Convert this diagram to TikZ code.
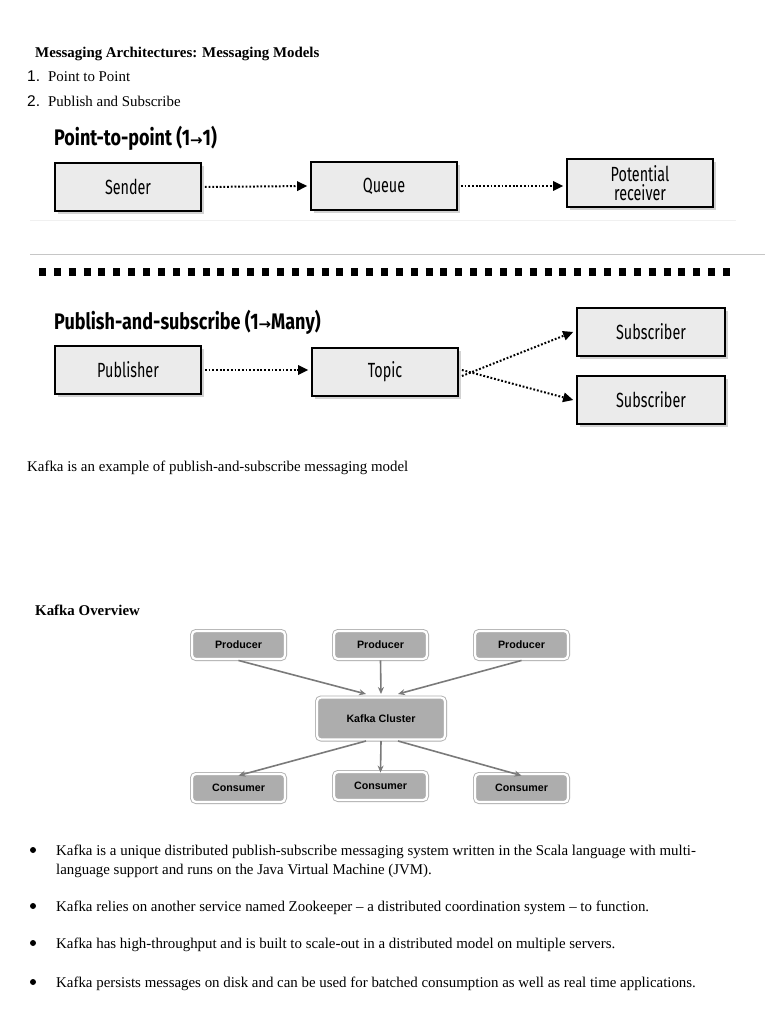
\documentclass[tikz,border=0pt]{standalone}
\usepackage{fontspec}
\setmainfont{Liberation Serif}
\newfontfamily\numfont{Liberation Sans}
\newfontfamily\cond[FakeStretch=0.8]{Fira Sans}
\newfontfamily\condlab[FakeStretch=0.7]{Fira Sans}
\newfontfamily\arrfont{DejaVu Sans}
\newfontfamily\kfont{Liberation Sans}
\usetikzlibrary{arrows.meta,shadows}
\definecolor{boxgray}{HTML}{EBEBEB}
\definecolor{kgray}{HTML}{ADADAD}
\definecolor{kline}{HTML}{7A7A7A}
\tikzset{
  body/.style={anchor=base west, inner sep=0pt, font=\fontsize{14.9}{17}\selectfont},
  obox/.style={draw=black, line width=1.8pt, fill=boxgray, minimum width=146pt, minimum height=48pt,
    inner sep=0pt, align=center, font=\condlab\fontsize{20.5}{18.5}\selectfont,
    drop shadow={shadow xshift=2.5pt, shadow yshift=-3pt, opacity=0.35, fill=gray}},
  otitle/.style={anchor=base west, inner sep=0pt, font=\cond\bfseries\fontsize{22.5}{22}\selectfont},
  dotarrow/.style={line width=2pt, dash pattern=on 1.8pt off 1.9pt, -{Triangle[length=10pt,width=10pt,line width=0pt]}},
  kbox/.style={draw=kline!60, double=white, double distance=2.2pt, line width=0.9pt, fill=kgray,
    rounded corners=4pt, minimum width=93pt, minimum height=28pt, inner sep=0pt,
    font=\kfont\bfseries\fontsize{10.7}{11}\selectfont},
  karrow/.style={draw=kline, line width=1.6pt, -{Stealth[length=7pt,width=6pt]}},
  bul/.style={circle, fill=black, inner sep=0pt, minimum size=6pt}
}
\begin{document}
\begin{tikzpicture}[x=1pt,y=-1pt]
\useasboundingbox (0,0) rectangle (768,1024);
\fill[white] (0,0) rectangle (768,1024);

% header text
\node[body, font=\bfseries\fontsize{14.9}{17}\selectfont] (title) at (35,58) {Messaging Architectures: Messaging Models};
\node[body, font=\numfont\fontsize{15.5}{17}\selectfont] (n1) at (27,82) {1.};
\node[body] (t1) at (48,82) {Point to Point};
\node[body, font=\numfont\fontsize{15.5}{17}\selectfont] (n2) at (27,107) {2.};
\node[body] (t2) at (48,107) {Publish and Subscribe};

% point-to-point
\node[otitle] (pttitle) at (54,146) {Point-to-point (1{\arrfont\fontsize{15}{15}\selectfont →}1)};
\node[obox] (sender) at (128,187) {Sender};
\node[obox] (queue) at (384,186) {Queue};
\node[obox] (recv) at (640,183) {Potential\\receiver};
\draw[dotarrow] ([xshift=3pt]sender.east) -- ([xshift=-3pt]queue.west);
\draw[dotarrow] ([xshift=3pt]queue.east) -- ([xshift=-3pt]recv.west |- queue.east);

% separators
\draw[gray!12, line width=0.8pt] (30,220) -- (736,220);
\draw[gray!45, line width=0.9pt] (30,254) -- (765,254);
\draw[black, line width=7.5pt, dash pattern=on 7pt off 7.87pt] (39,272) -- (730,272);

% publish-subscribe
\node[otitle] (pstitle) at (54,329) {Publish-and-subscribe (1{\arrfont\fontsize{15}{15}\selectfont →}Many)};
\node[obox] (pub) at (128,370) {Publisher};
\node[obox] (topic) at (385,372) {Topic};
\node[obox, minimum width=148pt] (sub1) at (651,332) {Subscriber};
\node[obox, minimum width=148pt] (sub2) at (651,400) {Subscriber};
\draw[dotarrow] ([xshift=3pt]pub.east) -- ([xshift=-3pt]topic.west |- pub.east);
\draw[dotarrow] ([xshift=3pt,yshift=-4pt]topic.east) -- ([xshift=-3pt]sub1.west);
\draw[dotarrow] ([xshift=3pt,yshift=2pt]topic.east) -- ([xshift=-3pt]sub2.west);

\node[body] (kex) at (27,471) {Kafka is an example of publish-and-subscribe messaging model};

% Kafka overview
\node[body, font=\bfseries\fontsize{14.9}{17}\selectfont] (kov) at (35,615) {Kafka Overview};
\node[kbox] (p1) at (238.5,645) {Producer};
\node[kbox] (p2) at (380.5,645) {Producer};
\node[kbox] (p3) at (521.5,645) {Producer};
\node[kbox, minimum width=128pt, minimum height=42pt] (kc) at (381,718.5) {Kafka Cluster};
\node[kbox] (c1) at (238.5,788) {Consumer};
\node[kbox] (c2) at (380.5,786) {Consumer};
\node[kbox] (c3) at (521.5,788) {Consumer};
\draw[karrow] ([yshift=-1pt]p1.south) -- (366,694);
\draw[karrow] ([yshift=-1pt]p2.south) -- (381,694);
\draw[karrow] ([yshift=-1pt]p3.south) -- (398,694);
\draw[karrow] (366,741) -- ([yshift=-2pt]c1.north);
\draw[karrow] (381,741) -- ([yshift=-1pt]c2.north);
\draw[karrow] (398,741) -- ([yshift=-2pt]c3.north);

% bullets
\node[bul] (b1) at (33,850) {};
\node[body] (l1a) at (56,855) {Kafka is a unique distributed publish-subscribe messaging system written in the Scala language with multi-};
\node[body] (l1b) at (56,874) {language support and runs on the Java Virtual Machine (JVM).};
\node[bul] (b2) at (33,906) {};
\node[body] (l2) at (56,911) {Kafka relies on another service named Zookeeper – a distributed coordination system – to function.};
\node[bul] (b3) at (33,943) {};
\node[body] (l3) at (56,948) {Kafka has high-throughput and is built to scale-out in a distributed model on multiple servers.};
\node[bul] (b4) at (33,982) {};
\node[body] (l4) at (56,987) {Kafka persists messages on disk and can be used for batched consumption as well as real time applications.};
\end{tikzpicture}
\end{document}
